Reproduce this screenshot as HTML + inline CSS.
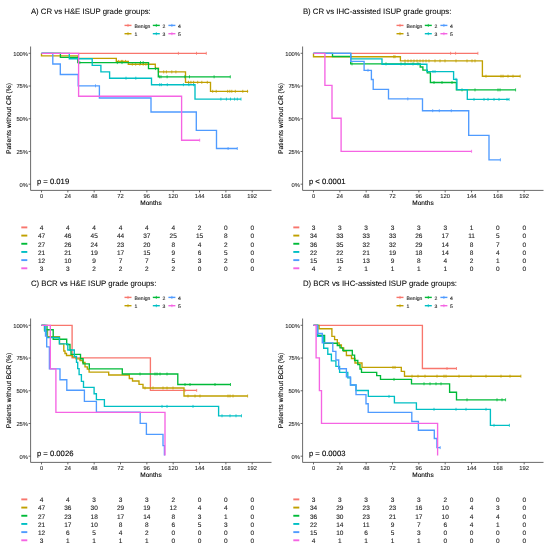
<!DOCTYPE html>
<html><head><meta charset="utf-8"><style>
html,body{margin:0;padding:0;background:#fff;}
svg{display:block;will-change:transform;}
text{font-family:"Liberation Sans",sans-serif;fill:#000;text-rendering:geometricPrecision;stroke:#000;stroke-width:0.12px;}
.title{font-size:7.8px;stroke-width:0.05px;}
.leg{font-size:5.1px;fill:#222;stroke:#222;stroke-width:0.1px;}
.tick{font-size:5.8px;fill:#222;stroke:#222;stroke-width:0.08px;}
.axt{font-size:6.5px;}
.axty{font-size:6.7px;}
.pv{font-size:7.7px;}
.rt{font-size:6.5px;fill:#1a1a1a;stroke:#1a1a1a;stroke-width:0.1px;}
.ax{stroke:#444;stroke-width:0.8;}
.km{stroke-width:1.35;}
.cen{stroke-width:0.8;}
</style></head><body>
<svg width="550" height="549" viewBox="0 0 550 549">
<rect width="550" height="549" fill="#fff"/>
<g transform="translate(0,0)">
<text x="30.9" y="14.2" class="title">A) CR vs H&amp;E ISUP grade groups:</text>
<line x1="124.5" y1="25.4" x2="131.5" y2="25.4" stroke="#F8766D" stroke-width="1.4"/>
<line x1="128" y1="23.9" x2="128" y2="26.9" stroke="#F8766D" stroke-width="0.8"/>
<text x="134.6" y="27.6" class="leg">Benign</text>
<line x1="124.5" y1="33.7" x2="131.5" y2="33.7" stroke="#C0A000" stroke-width="1.4"/>
<line x1="128" y1="32.2" x2="128" y2="35.2" stroke="#C0A000" stroke-width="0.8"/>
<text x="134.6" y="35.9" class="leg">1</text>
<line x1="152.8" y1="25.4" x2="159.8" y2="25.4" stroke="#00BA38" stroke-width="1.4"/>
<line x1="156.3" y1="23.9" x2="156.3" y2="26.9" stroke="#00BA38" stroke-width="0.8"/>
<text x="162.6" y="27.6" class="leg">2</text>
<line x1="152.8" y1="33.7" x2="159.8" y2="33.7" stroke="#00BFC4" stroke-width="1.4"/>
<line x1="156.3" y1="32.2" x2="156.3" y2="35.2" stroke="#00BFC4" stroke-width="0.8"/>
<text x="162.6" y="35.9" class="leg">3</text>
<line x1="168.4" y1="25.4" x2="175.4" y2="25.4" stroke="#4F9BFF" stroke-width="1.4"/>
<line x1="171.9" y1="23.9" x2="171.9" y2="26.9" stroke="#4F9BFF" stroke-width="0.8"/>
<text x="177.9" y="27.6" class="leg">4</text>
<line x1="168.4" y1="33.7" x2="175.4" y2="33.7" stroke="#F564E3" stroke-width="1.4"/>
<line x1="171.9" y1="32.2" x2="171.9" y2="35.2" stroke="#F564E3" stroke-width="0.8"/>
<text x="177.9" y="35.9" class="leg">5</text>
<line x1="30.6" y1="46.5" x2="30.6" y2="190.4" class="ax"/>
<line x1="30.6" y1="190.4" x2="271.5" y2="190.4" class="ax"/>
<line x1="28.6" y1="184.2" x2="30.6" y2="184.2" class="ax"/>
<text x="28" y="186.6" class="tick" text-anchor="end">0%</text>
<line x1="28.6" y1="151.47" x2="30.6" y2="151.47" class="ax"/>
<text x="28" y="153.88" class="tick" text-anchor="end">25%</text>
<line x1="28.6" y1="118.75" x2="30.6" y2="118.75" class="ax"/>
<text x="28" y="121.15" class="tick" text-anchor="end">50%</text>
<line x1="28.6" y1="86.03" x2="30.6" y2="86.03" class="ax"/>
<text x="28" y="88.43" class="tick" text-anchor="end">75%</text>
<line x1="28.6" y1="53.3" x2="30.6" y2="53.3" class="ax"/>
<text x="28" y="55.7" class="tick" text-anchor="end">100%</text>
<line x1="41.5" y1="190.4" x2="41.5" y2="192.4" class="ax"/>
<text x="41.5" y="197.6" class="tick" text-anchor="middle">0</text>
<line x1="67.84" y1="190.4" x2="67.84" y2="192.4" class="ax"/>
<text x="67.84" y="197.6" class="tick" text-anchor="middle">24</text>
<line x1="94.18" y1="190.4" x2="94.18" y2="192.4" class="ax"/>
<text x="94.18" y="197.6" class="tick" text-anchor="middle">48</text>
<line x1="120.51" y1="190.4" x2="120.51" y2="192.4" class="ax"/>
<text x="120.51" y="197.6" class="tick" text-anchor="middle">72</text>
<line x1="146.85" y1="190.4" x2="146.85" y2="192.4" class="ax"/>
<text x="146.85" y="197.6" class="tick" text-anchor="middle">96</text>
<line x1="173.19" y1="190.4" x2="173.19" y2="192.4" class="ax"/>
<text x="173.19" y="197.6" class="tick" text-anchor="middle">120</text>
<line x1="199.53" y1="190.4" x2="199.53" y2="192.4" class="ax"/>
<text x="199.53" y="197.6" class="tick" text-anchor="middle">144</text>
<line x1="225.86" y1="190.4" x2="225.86" y2="192.4" class="ax"/>
<text x="225.86" y="197.6" class="tick" text-anchor="middle">168</text>
<line x1="252.2" y1="190.4" x2="252.2" y2="192.4" class="ax"/>
<text x="252.2" y="197.6" class="tick" text-anchor="middle">192</text>
<text x="151" y="205.4" class="axt" text-anchor="middle">Months</text>
<text transform="translate(11.1,118.5) rotate(-90)" class="axty" text-anchor="middle">Patients without CR (%)</text>
<text x="36.9" y="184.2" class="pv">p = 0.019</text>
<line x1="21.3" y1="227.4" x2="27.3" y2="227.4" stroke="#F8766D" stroke-width="1.9"/>
<text x="41.5" y="230.15" class="rt" text-anchor="middle">4</text>
<text x="67.84" y="230.15" class="rt" text-anchor="middle">4</text>
<text x="94.18" y="230.15" class="rt" text-anchor="middle">4</text>
<text x="120.51" y="230.15" class="rt" text-anchor="middle">4</text>
<text x="146.85" y="230.15" class="rt" text-anchor="middle">4</text>
<text x="173.19" y="230.15" class="rt" text-anchor="middle">4</text>
<text x="199.53" y="230.15" class="rt" text-anchor="middle">2</text>
<text x="225.86" y="230.15" class="rt" text-anchor="middle">0</text>
<text x="252.2" y="230.15" class="rt" text-anchor="middle">0</text>
<line x1="21.3" y1="235.58" x2="27.3" y2="235.58" stroke="#C0A000" stroke-width="1.9"/>
<text x="41.5" y="238.33" class="rt" text-anchor="middle">47</text>
<text x="67.84" y="238.33" class="rt" text-anchor="middle">46</text>
<text x="94.18" y="238.33" class="rt" text-anchor="middle">45</text>
<text x="120.51" y="238.33" class="rt" text-anchor="middle">44</text>
<text x="146.85" y="238.33" class="rt" text-anchor="middle">37</text>
<text x="173.19" y="238.33" class="rt" text-anchor="middle">25</text>
<text x="199.53" y="238.33" class="rt" text-anchor="middle">15</text>
<text x="225.86" y="238.33" class="rt" text-anchor="middle">8</text>
<text x="252.2" y="238.33" class="rt" text-anchor="middle">0</text>
<line x1="21.3" y1="243.76" x2="27.3" y2="243.76" stroke="#00BA38" stroke-width="1.9"/>
<text x="41.5" y="246.51" class="rt" text-anchor="middle">27</text>
<text x="67.84" y="246.51" class="rt" text-anchor="middle">26</text>
<text x="94.18" y="246.51" class="rt" text-anchor="middle">24</text>
<text x="120.51" y="246.51" class="rt" text-anchor="middle">23</text>
<text x="146.85" y="246.51" class="rt" text-anchor="middle">20</text>
<text x="173.19" y="246.51" class="rt" text-anchor="middle">8</text>
<text x="199.53" y="246.51" class="rt" text-anchor="middle">4</text>
<text x="225.86" y="246.51" class="rt" text-anchor="middle">2</text>
<text x="252.2" y="246.51" class="rt" text-anchor="middle">0</text>
<line x1="21.3" y1="251.94" x2="27.3" y2="251.94" stroke="#00BFC4" stroke-width="1.9"/>
<text x="41.5" y="254.69" class="rt" text-anchor="middle">21</text>
<text x="67.84" y="254.69" class="rt" text-anchor="middle">21</text>
<text x="94.18" y="254.69" class="rt" text-anchor="middle">19</text>
<text x="120.51" y="254.69" class="rt" text-anchor="middle">17</text>
<text x="146.85" y="254.69" class="rt" text-anchor="middle">15</text>
<text x="173.19" y="254.69" class="rt" text-anchor="middle">9</text>
<text x="199.53" y="254.69" class="rt" text-anchor="middle">6</text>
<text x="225.86" y="254.69" class="rt" text-anchor="middle">5</text>
<text x="252.2" y="254.69" class="rt" text-anchor="middle">0</text>
<line x1="21.3" y1="260.12" x2="27.3" y2="260.12" stroke="#4F9BFF" stroke-width="1.9"/>
<text x="41.5" y="262.87" class="rt" text-anchor="middle">12</text>
<text x="67.84" y="262.87" class="rt" text-anchor="middle">10</text>
<text x="94.18" y="262.87" class="rt" text-anchor="middle">9</text>
<text x="120.51" y="262.87" class="rt" text-anchor="middle">7</text>
<text x="146.85" y="262.87" class="rt" text-anchor="middle">7</text>
<text x="173.19" y="262.87" class="rt" text-anchor="middle">5</text>
<text x="199.53" y="262.87" class="rt" text-anchor="middle">3</text>
<text x="225.86" y="262.87" class="rt" text-anchor="middle">2</text>
<text x="252.2" y="262.87" class="rt" text-anchor="middle">0</text>
<line x1="21.3" y1="268.3" x2="27.3" y2="268.3" stroke="#F564E3" stroke-width="1.9"/>
<text x="41.5" y="271.05" class="rt" text-anchor="middle">3</text>
<text x="67.84" y="271.05" class="rt" text-anchor="middle">3</text>
<text x="94.18" y="271.05" class="rt" text-anchor="middle">2</text>
<text x="120.51" y="271.05" class="rt" text-anchor="middle">2</text>
<text x="146.85" y="271.05" class="rt" text-anchor="middle">2</text>
<text x="173.19" y="271.05" class="rt" text-anchor="middle">2</text>
<text x="199.53" y="271.05" class="rt" text-anchor="middle">0</text>
<text x="225.86" y="271.05" class="rt" text-anchor="middle">0</text>
<text x="252.2" y="271.05" class="rt" text-anchor="middle">0</text>
</g>
<path d="M41.5,53.3H206.3" fill="none" stroke="#F8766D" class="km"/>
<line x1="178.4" y1="51.8" x2="178.4" y2="54.8" stroke="#F8766D" class="cen"/>
<line x1="196.5" y1="51.8" x2="196.5" y2="54.8" stroke="#F8766D" class="cen"/>
<line x1="206.3" y1="51.8" x2="206.3" y2="54.8" stroke="#F8766D" class="cen"/>
<path d="M41.5,53.3H41.5V55.9H78V58.4H116.3V61.4H128.3V64.2H155.3V68.1H158.5V71.9H185.5V82.3H210.5V91.3H248.2" fill="none" stroke="#C0A000" class="km"/>
<line x1="118.6" y1="59.9" x2="118.6" y2="62.9" stroke="#C0A000" class="cen"/>
<line x1="121.4" y1="59.9" x2="121.4" y2="62.9" stroke="#C0A000" class="cen"/>
<line x1="122.7" y1="59.9" x2="122.7" y2="62.9" stroke="#C0A000" class="cen"/>
<line x1="125.5" y1="59.9" x2="125.5" y2="62.9" stroke="#C0A000" class="cen"/>
<line x1="132.3" y1="62.7" x2="132.3" y2="65.7" stroke="#C0A000" class="cen"/>
<line x1="135.7" y1="62.7" x2="135.7" y2="65.7" stroke="#C0A000" class="cen"/>
<line x1="139.8" y1="62.7" x2="139.8" y2="65.7" stroke="#C0A000" class="cen"/>
<line x1="143.2" y1="62.7" x2="143.2" y2="65.7" stroke="#C0A000" class="cen"/>
<line x1="145.9" y1="62.7" x2="145.9" y2="65.7" stroke="#C0A000" class="cen"/>
<line x1="163.7" y1="70.4" x2="163.7" y2="73.4" stroke="#C0A000" class="cen"/>
<line x1="166.4" y1="70.4" x2="166.4" y2="73.4" stroke="#C0A000" class="cen"/>
<line x1="171.8" y1="70.4" x2="171.8" y2="73.4" stroke="#C0A000" class="cen"/>
<line x1="175.9" y1="70.4" x2="175.9" y2="73.4" stroke="#C0A000" class="cen"/>
<line x1="188.5" y1="80.8" x2="188.5" y2="83.8" stroke="#C0A000" class="cen"/>
<line x1="190.9" y1="80.8" x2="190.9" y2="83.8" stroke="#C0A000" class="cen"/>
<line x1="193.6" y1="80.8" x2="193.6" y2="83.8" stroke="#C0A000" class="cen"/>
<line x1="197.7" y1="80.8" x2="197.7" y2="83.8" stroke="#C0A000" class="cen"/>
<line x1="201.8" y1="80.8" x2="201.8" y2="83.8" stroke="#C0A000" class="cen"/>
<line x1="207.3" y1="80.8" x2="207.3" y2="83.8" stroke="#C0A000" class="cen"/>
<line x1="212.7" y1="89.8" x2="212.7" y2="92.8" stroke="#C0A000" class="cen"/>
<line x1="216.2" y1="89.8" x2="216.2" y2="92.8" stroke="#C0A000" class="cen"/>
<line x1="227.7" y1="89.8" x2="227.7" y2="92.8" stroke="#C0A000" class="cen"/>
<line x1="229.8" y1="89.8" x2="229.8" y2="92.8" stroke="#C0A000" class="cen"/>
<line x1="231.8" y1="89.8" x2="231.8" y2="92.8" stroke="#C0A000" class="cen"/>
<line x1="235.3" y1="89.8" x2="235.3" y2="92.8" stroke="#C0A000" class="cen"/>
<line x1="242.8" y1="89.8" x2="242.8" y2="92.8" stroke="#C0A000" class="cen"/>
<line x1="247.5" y1="89.8" x2="247.5" y2="92.8" stroke="#C0A000" class="cen"/>
<path d="M41.5,53.3H60.4V57.3H77.8V62.6H148.5V68.6H158.3V76.8H230.3" fill="none" stroke="#00BA38" class="km"/>
<line x1="79.8" y1="61.1" x2="79.8" y2="64.1" stroke="#00BA38" class="cen"/>
<line x1="117.3" y1="61.1" x2="117.3" y2="64.1" stroke="#00BA38" class="cen"/>
<line x1="122" y1="61.1" x2="122" y2="64.1" stroke="#00BA38" class="cen"/>
<line x1="140.5" y1="61.1" x2="140.5" y2="64.1" stroke="#00BA38" class="cen"/>
<line x1="143.2" y1="61.1" x2="143.2" y2="64.1" stroke="#00BA38" class="cen"/>
<line x1="155.5" y1="67.1" x2="155.5" y2="70.1" stroke="#00BA38" class="cen"/>
<line x1="159.6" y1="75.3" x2="159.6" y2="78.3" stroke="#00BA38" class="cen"/>
<line x1="161" y1="75.3" x2="161" y2="78.3" stroke="#00BA38" class="cen"/>
<line x1="167.1" y1="75.3" x2="167.1" y2="78.3" stroke="#00BA38" class="cen"/>
<line x1="184.8" y1="75.3" x2="184.8" y2="78.3" stroke="#00BA38" class="cen"/>
<line x1="189.5" y1="75.3" x2="189.5" y2="78.3" stroke="#00BA38" class="cen"/>
<line x1="214.1" y1="75.3" x2="214.1" y2="78.3" stroke="#00BA38" class="cen"/>
<line x1="230.3" y1="75.3" x2="230.3" y2="78.3" stroke="#00BA38" class="cen"/>
<path d="M41.5,53.3H69.3V58.7H92.2V65.3H100.9V71.8H109.6V78.2H151.5V84.7H195V99.1H241" fill="none" stroke="#00BFC4" class="km"/>
<line x1="126" y1="76.7" x2="126" y2="79.7" stroke="#00BFC4" class="cen"/>
<line x1="135.8" y1="76.7" x2="135.8" y2="79.7" stroke="#00BFC4" class="cen"/>
<line x1="159.7" y1="83.2" x2="159.7" y2="86.2" stroke="#00BFC4" class="cen"/>
<line x1="161.3" y1="83.2" x2="161.3" y2="86.2" stroke="#00BFC4" class="cen"/>
<line x1="167.3" y1="83.2" x2="167.3" y2="86.2" stroke="#00BFC4" class="cen"/>
<line x1="183.4" y1="83.2" x2="183.4" y2="86.2" stroke="#00BFC4" class="cen"/>
<line x1="188.9" y1="83.2" x2="188.9" y2="86.2" stroke="#00BFC4" class="cen"/>
<line x1="193.6" y1="83.2" x2="193.6" y2="86.2" stroke="#00BFC4" class="cen"/>
<line x1="220.9" y1="97.6" x2="220.9" y2="100.6" stroke="#00BFC4" class="cen"/>
<line x1="226.4" y1="97.6" x2="226.4" y2="100.6" stroke="#00BFC4" class="cen"/>
<line x1="230.5" y1="97.6" x2="230.5" y2="100.6" stroke="#00BFC4" class="cen"/>
<line x1="234.6" y1="97.6" x2="234.6" y2="100.6" stroke="#00BFC4" class="cen"/>
<line x1="237.3" y1="97.6" x2="237.3" y2="100.6" stroke="#00BFC4" class="cen"/>
<line x1="241" y1="97.6" x2="241" y2="100.6" stroke="#00BFC4" class="cen"/>
<path d="M41.5,53.3H52.8V64H60.3V74.5H78.2V85.8H99.4V98H151V112H196.3V130.4H216.5V148.5H237.3" fill="none" stroke="#4F9BFF" class="km"/>
<line x1="95.5" y1="84.3" x2="95.5" y2="87.3" stroke="#4F9BFF" class="cen"/>
<line x1="228.1" y1="147" x2="228.1" y2="150" stroke="#4F9BFF" class="cen"/>
<line x1="237.3" y1="147" x2="237.3" y2="150" stroke="#4F9BFF" class="cen"/>
<path d="M41.5,53.3H78.6V96.2H181.6V140.2H199.7" fill="none" stroke="#F564E3" class="km"/>
<line x1="199.7" y1="138.7" x2="199.7" y2="141.7" stroke="#F564E3" class="cen"/>
<g transform="translate(272,0)">
<text x="30.9" y="14.2" class="title">B) CR vs IHC-assisted ISUP grade groups:</text>
<line x1="124.5" y1="25.4" x2="131.5" y2="25.4" stroke="#F8766D" stroke-width="1.4"/>
<line x1="128" y1="23.9" x2="128" y2="26.9" stroke="#F8766D" stroke-width="0.8"/>
<text x="134.6" y="27.6" class="leg">Benign</text>
<line x1="124.5" y1="33.7" x2="131.5" y2="33.7" stroke="#C0A000" stroke-width="1.4"/>
<line x1="128" y1="32.2" x2="128" y2="35.2" stroke="#C0A000" stroke-width="0.8"/>
<text x="134.6" y="35.9" class="leg">1</text>
<line x1="152.8" y1="25.4" x2="159.8" y2="25.4" stroke="#00BA38" stroke-width="1.4"/>
<line x1="156.3" y1="23.9" x2="156.3" y2="26.9" stroke="#00BA38" stroke-width="0.8"/>
<text x="162.6" y="27.6" class="leg">2</text>
<line x1="152.8" y1="33.7" x2="159.8" y2="33.7" stroke="#00BFC4" stroke-width="1.4"/>
<line x1="156.3" y1="32.2" x2="156.3" y2="35.2" stroke="#00BFC4" stroke-width="0.8"/>
<text x="162.6" y="35.9" class="leg">3</text>
<line x1="168.4" y1="25.4" x2="175.4" y2="25.4" stroke="#4F9BFF" stroke-width="1.4"/>
<line x1="171.9" y1="23.9" x2="171.9" y2="26.9" stroke="#4F9BFF" stroke-width="0.8"/>
<text x="177.9" y="27.6" class="leg">4</text>
<line x1="168.4" y1="33.7" x2="175.4" y2="33.7" stroke="#F564E3" stroke-width="1.4"/>
<line x1="171.9" y1="32.2" x2="171.9" y2="35.2" stroke="#F564E3" stroke-width="0.8"/>
<text x="177.9" y="35.9" class="leg">5</text>
<line x1="30.6" y1="46.5" x2="30.6" y2="190.4" class="ax"/>
<line x1="30.6" y1="190.4" x2="271.5" y2="190.4" class="ax"/>
<line x1="28.6" y1="184.2" x2="30.6" y2="184.2" class="ax"/>
<text x="28" y="186.6" class="tick" text-anchor="end">0%</text>
<line x1="28.6" y1="151.47" x2="30.6" y2="151.47" class="ax"/>
<text x="28" y="153.88" class="tick" text-anchor="end">25%</text>
<line x1="28.6" y1="118.75" x2="30.6" y2="118.75" class="ax"/>
<text x="28" y="121.15" class="tick" text-anchor="end">50%</text>
<line x1="28.6" y1="86.03" x2="30.6" y2="86.03" class="ax"/>
<text x="28" y="88.43" class="tick" text-anchor="end">75%</text>
<line x1="28.6" y1="53.3" x2="30.6" y2="53.3" class="ax"/>
<text x="28" y="55.7" class="tick" text-anchor="end">100%</text>
<line x1="41.5" y1="190.4" x2="41.5" y2="192.4" class="ax"/>
<text x="41.5" y="197.6" class="tick" text-anchor="middle">0</text>
<line x1="67.84" y1="190.4" x2="67.84" y2="192.4" class="ax"/>
<text x="67.84" y="197.6" class="tick" text-anchor="middle">24</text>
<line x1="94.18" y1="190.4" x2="94.18" y2="192.4" class="ax"/>
<text x="94.18" y="197.6" class="tick" text-anchor="middle">48</text>
<line x1="120.51" y1="190.4" x2="120.51" y2="192.4" class="ax"/>
<text x="120.51" y="197.6" class="tick" text-anchor="middle">72</text>
<line x1="146.85" y1="190.4" x2="146.85" y2="192.4" class="ax"/>
<text x="146.85" y="197.6" class="tick" text-anchor="middle">96</text>
<line x1="173.19" y1="190.4" x2="173.19" y2="192.4" class="ax"/>
<text x="173.19" y="197.6" class="tick" text-anchor="middle">120</text>
<line x1="199.53" y1="190.4" x2="199.53" y2="192.4" class="ax"/>
<text x="199.53" y="197.6" class="tick" text-anchor="middle">144</text>
<line x1="225.86" y1="190.4" x2="225.86" y2="192.4" class="ax"/>
<text x="225.86" y="197.6" class="tick" text-anchor="middle">168</text>
<line x1="252.2" y1="190.4" x2="252.2" y2="192.4" class="ax"/>
<text x="252.2" y="197.6" class="tick" text-anchor="middle">192</text>
<text x="151" y="205.4" class="axt" text-anchor="middle">Months</text>
<text transform="translate(11.1,118.5) rotate(-90)" class="axty" text-anchor="middle">Patients without CR (%)</text>
<text x="36.9" y="184.2" class="pv">p &lt; 0.0001</text>
<line x1="21.3" y1="227.4" x2="27.3" y2="227.4" stroke="#F8766D" stroke-width="1.9"/>
<text x="41.5" y="230.15" class="rt" text-anchor="middle">3</text>
<text x="67.84" y="230.15" class="rt" text-anchor="middle">3</text>
<text x="94.18" y="230.15" class="rt" text-anchor="middle">3</text>
<text x="120.51" y="230.15" class="rt" text-anchor="middle">3</text>
<text x="146.85" y="230.15" class="rt" text-anchor="middle">3</text>
<text x="173.19" y="230.15" class="rt" text-anchor="middle">3</text>
<text x="199.53" y="230.15" class="rt" text-anchor="middle">1</text>
<text x="225.86" y="230.15" class="rt" text-anchor="middle">0</text>
<text x="252.2" y="230.15" class="rt" text-anchor="middle">0</text>
<line x1="21.3" y1="235.58" x2="27.3" y2="235.58" stroke="#C0A000" stroke-width="1.9"/>
<text x="41.5" y="238.33" class="rt" text-anchor="middle">34</text>
<text x="67.84" y="238.33" class="rt" text-anchor="middle">33</text>
<text x="94.18" y="238.33" class="rt" text-anchor="middle">33</text>
<text x="120.51" y="238.33" class="rt" text-anchor="middle">33</text>
<text x="146.85" y="238.33" class="rt" text-anchor="middle">26</text>
<text x="173.19" y="238.33" class="rt" text-anchor="middle">17</text>
<text x="199.53" y="238.33" class="rt" text-anchor="middle">11</text>
<text x="225.86" y="238.33" class="rt" text-anchor="middle">5</text>
<text x="252.2" y="238.33" class="rt" text-anchor="middle">0</text>
<line x1="21.3" y1="243.76" x2="27.3" y2="243.76" stroke="#00BA38" stroke-width="1.9"/>
<text x="41.5" y="246.51" class="rt" text-anchor="middle">36</text>
<text x="67.84" y="246.51" class="rt" text-anchor="middle">35</text>
<text x="94.18" y="246.51" class="rt" text-anchor="middle">32</text>
<text x="120.51" y="246.51" class="rt" text-anchor="middle">32</text>
<text x="146.85" y="246.51" class="rt" text-anchor="middle">29</text>
<text x="173.19" y="246.51" class="rt" text-anchor="middle">14</text>
<text x="199.53" y="246.51" class="rt" text-anchor="middle">8</text>
<text x="225.86" y="246.51" class="rt" text-anchor="middle">7</text>
<text x="252.2" y="246.51" class="rt" text-anchor="middle">0</text>
<line x1="21.3" y1="251.94" x2="27.3" y2="251.94" stroke="#00BFC4" stroke-width="1.9"/>
<text x="41.5" y="254.69" class="rt" text-anchor="middle">22</text>
<text x="67.84" y="254.69" class="rt" text-anchor="middle">22</text>
<text x="94.18" y="254.69" class="rt" text-anchor="middle">21</text>
<text x="120.51" y="254.69" class="rt" text-anchor="middle">19</text>
<text x="146.85" y="254.69" class="rt" text-anchor="middle">18</text>
<text x="173.19" y="254.69" class="rt" text-anchor="middle">14</text>
<text x="199.53" y="254.69" class="rt" text-anchor="middle">8</text>
<text x="225.86" y="254.69" class="rt" text-anchor="middle">4</text>
<text x="252.2" y="254.69" class="rt" text-anchor="middle">0</text>
<line x1="21.3" y1="260.12" x2="27.3" y2="260.12" stroke="#4F9BFF" stroke-width="1.9"/>
<text x="41.5" y="262.87" class="rt" text-anchor="middle">15</text>
<text x="67.84" y="262.87" class="rt" text-anchor="middle">15</text>
<text x="94.18" y="262.87" class="rt" text-anchor="middle">13</text>
<text x="120.51" y="262.87" class="rt" text-anchor="middle">9</text>
<text x="146.85" y="262.87" class="rt" text-anchor="middle">8</text>
<text x="173.19" y="262.87" class="rt" text-anchor="middle">4</text>
<text x="199.53" y="262.87" class="rt" text-anchor="middle">2</text>
<text x="225.86" y="262.87" class="rt" text-anchor="middle">1</text>
<text x="252.2" y="262.87" class="rt" text-anchor="middle">0</text>
<line x1="21.3" y1="268.3" x2="27.3" y2="268.3" stroke="#F564E3" stroke-width="1.9"/>
<text x="41.5" y="271.05" class="rt" text-anchor="middle">4</text>
<text x="67.84" y="271.05" class="rt" text-anchor="middle">2</text>
<text x="94.18" y="271.05" class="rt" text-anchor="middle">1</text>
<text x="120.51" y="271.05" class="rt" text-anchor="middle">1</text>
<text x="146.85" y="271.05" class="rt" text-anchor="middle">1</text>
<text x="173.19" y="271.05" class="rt" text-anchor="middle">1</text>
<text x="199.53" y="271.05" class="rt" text-anchor="middle">0</text>
<text x="225.86" y="271.05" class="rt" text-anchor="middle">0</text>
<text x="252.2" y="271.05" class="rt" text-anchor="middle">0</text>
</g>
<path d="M313.5,53.3H477.9" fill="none" stroke="#F8766D" class="km"/>
<line x1="450.6" y1="51.8" x2="450.6" y2="54.8" stroke="#F8766D" class="cen"/>
<line x1="455.6" y1="51.8" x2="455.6" y2="54.8" stroke="#F8766D" class="cen"/>
<line x1="477.9" y1="51.8" x2="477.9" y2="54.8" stroke="#F8766D" class="cen"/>
<path d="M313.5,53.3H313.5V56.7H400.4V60.9H482.4V76.2H520.2" fill="none" stroke="#C0A000" class="km"/>
<line x1="393.8" y1="55.2" x2="393.8" y2="58.2" stroke="#C0A000" class="cen"/>
<line x1="395" y1="55.2" x2="395" y2="58.2" stroke="#C0A000" class="cen"/>
<line x1="405" y1="59.4" x2="405" y2="62.4" stroke="#C0A000" class="cen"/>
<line x1="408" y1="59.4" x2="408" y2="62.4" stroke="#C0A000" class="cen"/>
<line x1="411" y1="59.4" x2="411" y2="62.4" stroke="#C0A000" class="cen"/>
<line x1="414" y1="59.4" x2="414" y2="62.4" stroke="#C0A000" class="cen"/>
<line x1="417" y1="59.4" x2="417" y2="62.4" stroke="#C0A000" class="cen"/>
<line x1="420" y1="59.4" x2="420" y2="62.4" stroke="#C0A000" class="cen"/>
<line x1="423" y1="59.4" x2="423" y2="62.4" stroke="#C0A000" class="cen"/>
<line x1="426" y1="59.4" x2="426" y2="62.4" stroke="#C0A000" class="cen"/>
<line x1="429" y1="59.4" x2="429" y2="62.4" stroke="#C0A000" class="cen"/>
<line x1="435" y1="59.4" x2="435" y2="62.4" stroke="#C0A000" class="cen"/>
<line x1="440" y1="59.4" x2="440" y2="62.4" stroke="#C0A000" class="cen"/>
<line x1="445" y1="59.4" x2="445" y2="62.4" stroke="#C0A000" class="cen"/>
<line x1="456" y1="59.4" x2="456" y2="62.4" stroke="#C0A000" class="cen"/>
<line x1="467" y1="59.4" x2="467" y2="62.4" stroke="#C0A000" class="cen"/>
<line x1="472" y1="59.4" x2="472" y2="62.4" stroke="#C0A000" class="cen"/>
<line x1="475" y1="59.4" x2="475" y2="62.4" stroke="#C0A000" class="cen"/>
<line x1="486" y1="74.7" x2="486" y2="77.7" stroke="#C0A000" class="cen"/>
<line x1="501" y1="74.7" x2="501" y2="77.7" stroke="#C0A000" class="cen"/>
<line x1="503" y1="74.7" x2="503" y2="77.7" stroke="#C0A000" class="cen"/>
<line x1="508" y1="74.7" x2="508" y2="77.7" stroke="#C0A000" class="cen"/>
<line x1="513" y1="74.7" x2="513" y2="77.7" stroke="#C0A000" class="cen"/>
<line x1="520.2" y1="74.7" x2="520.2" y2="77.7" stroke="#C0A000" class="cen"/>
<path d="M313.5,53.3H332.5V56.5H350.7V63.9H420.2V67H422.9V70.1H427.3V72.9H430.4V82.5H456.4V89.9H515.6" fill="none" stroke="#00BA38" class="km"/>
<line x1="352" y1="62.4" x2="352" y2="65.4" stroke="#00BA38" class="cen"/>
<line x1="386" y1="62.4" x2="386" y2="65.4" stroke="#00BA38" class="cen"/>
<line x1="401" y1="62.4" x2="401" y2="65.4" stroke="#00BA38" class="cen"/>
<line x1="405" y1="62.4" x2="405" y2="65.4" stroke="#00BA38" class="cen"/>
<line x1="413" y1="62.4" x2="413" y2="65.4" stroke="#00BA38" class="cen"/>
<line x1="418" y1="62.4" x2="418" y2="65.4" stroke="#00BA38" class="cen"/>
<line x1="434" y1="81" x2="434" y2="84" stroke="#00BA38" class="cen"/>
<line x1="442" y1="81" x2="442" y2="84" stroke="#00BA38" class="cen"/>
<line x1="452" y1="81" x2="452" y2="84" stroke="#00BA38" class="cen"/>
<line x1="462" y1="88.4" x2="462" y2="91.4" stroke="#00BA38" class="cen"/>
<line x1="475" y1="88.4" x2="475" y2="91.4" stroke="#00BA38" class="cen"/>
<line x1="498" y1="88.4" x2="498" y2="91.4" stroke="#00BA38" class="cen"/>
<line x1="500" y1="88.4" x2="500" y2="91.4" stroke="#00BA38" class="cen"/>
<line x1="515.6" y1="88.4" x2="515.6" y2="91.4" stroke="#00BA38" class="cen"/>
<path d="M313.5,53.3H350.7V58.9H382V64.2H426.9V71.6H453.6V79.3H456.9V89.6H467.3V99.4H509.1" fill="none" stroke="#00BFC4" class="km"/>
<line x1="433" y1="70.1" x2="433" y2="73.1" stroke="#00BFC4" class="cen"/>
<line x1="435" y1="70.1" x2="435" y2="73.1" stroke="#00BFC4" class="cen"/>
<line x1="456" y1="77.8" x2="456" y2="80.8" stroke="#00BFC4" class="cen"/>
<line x1="474" y1="97.9" x2="474" y2="100.9" stroke="#00BFC4" class="cen"/>
<line x1="484" y1="97.9" x2="484" y2="100.9" stroke="#00BFC4" class="cen"/>
<line x1="488" y1="97.9" x2="488" y2="100.9" stroke="#00BFC4" class="cen"/>
<line x1="494" y1="97.9" x2="494" y2="100.9" stroke="#00BFC4" class="cen"/>
<line x1="499" y1="97.9" x2="499" y2="100.9" stroke="#00BFC4" class="cen"/>
<line x1="507" y1="97.9" x2="507" y2="100.9" stroke="#00BFC4" class="cen"/>
<line x1="509.1" y1="97.9" x2="509.1" y2="100.9" stroke="#00BFC4" class="cen"/>
<path d="M313.5,53.3H350.7V61.4H364.1V70.3H371.4V79.5H373.2V89.3H388.5V98.9H422.5V110.7H468.7V135.4H489V159.8H500.4" fill="none" stroke="#4F9BFF" class="km"/>
<line x1="368" y1="68.8" x2="368" y2="71.8" stroke="#4F9BFF" class="cen"/>
<line x1="407.8" y1="97.4" x2="407.8" y2="100.4" stroke="#4F9BFF" class="cen"/>
<line x1="432.7" y1="109.2" x2="432.7" y2="112.2" stroke="#4F9BFF" class="cen"/>
<line x1="439.3" y1="109.2" x2="439.3" y2="112.2" stroke="#4F9BFF" class="cen"/>
<line x1="451.3" y1="109.2" x2="451.3" y2="112.2" stroke="#4F9BFF" class="cen"/>
<line x1="500.4" y1="158.3" x2="500.4" y2="161.3" stroke="#4F9BFF" class="cen"/>
<path d="M313.5,53.3H324.9V85.4H332V118.2H341.1V151.3H471.6" fill="none" stroke="#F564E3" class="km"/>
<line x1="471.6" y1="149.8" x2="471.6" y2="152.8" stroke="#F564E3" class="cen"/>
<g transform="translate(0,272)">
<text x="30.9" y="14.2" class="title">C) BCR vs H&amp;E ISUP grade groups:</text>
<line x1="124.5" y1="25.4" x2="131.5" y2="25.4" stroke="#F8766D" stroke-width="1.4"/>
<line x1="128" y1="23.9" x2="128" y2="26.9" stroke="#F8766D" stroke-width="0.8"/>
<text x="134.6" y="27.6" class="leg">Benign</text>
<line x1="124.5" y1="33.7" x2="131.5" y2="33.7" stroke="#C0A000" stroke-width="1.4"/>
<line x1="128" y1="32.2" x2="128" y2="35.2" stroke="#C0A000" stroke-width="0.8"/>
<text x="134.6" y="35.9" class="leg">1</text>
<line x1="152.8" y1="25.4" x2="159.8" y2="25.4" stroke="#00BA38" stroke-width="1.4"/>
<line x1="156.3" y1="23.9" x2="156.3" y2="26.9" stroke="#00BA38" stroke-width="0.8"/>
<text x="162.6" y="27.6" class="leg">2</text>
<line x1="152.8" y1="33.7" x2="159.8" y2="33.7" stroke="#00BFC4" stroke-width="1.4"/>
<line x1="156.3" y1="32.2" x2="156.3" y2="35.2" stroke="#00BFC4" stroke-width="0.8"/>
<text x="162.6" y="35.9" class="leg">3</text>
<line x1="168.4" y1="25.4" x2="175.4" y2="25.4" stroke="#4F9BFF" stroke-width="1.4"/>
<line x1="171.9" y1="23.9" x2="171.9" y2="26.9" stroke="#4F9BFF" stroke-width="0.8"/>
<text x="177.9" y="27.6" class="leg">4</text>
<line x1="168.4" y1="33.7" x2="175.4" y2="33.7" stroke="#F564E3" stroke-width="1.4"/>
<line x1="171.9" y1="32.2" x2="171.9" y2="35.2" stroke="#F564E3" stroke-width="0.8"/>
<text x="177.9" y="35.9" class="leg">5</text>
<line x1="30.6" y1="46.5" x2="30.6" y2="190.4" class="ax"/>
<line x1="30.6" y1="190.4" x2="271.5" y2="190.4" class="ax"/>
<line x1="28.6" y1="184.2" x2="30.6" y2="184.2" class="ax"/>
<text x="28" y="186.6" class="tick" text-anchor="end">0%</text>
<line x1="28.6" y1="151.47" x2="30.6" y2="151.47" class="ax"/>
<text x="28" y="153.88" class="tick" text-anchor="end">25%</text>
<line x1="28.6" y1="118.75" x2="30.6" y2="118.75" class="ax"/>
<text x="28" y="121.15" class="tick" text-anchor="end">50%</text>
<line x1="28.6" y1="86.03" x2="30.6" y2="86.03" class="ax"/>
<text x="28" y="88.43" class="tick" text-anchor="end">75%</text>
<line x1="28.6" y1="53.3" x2="30.6" y2="53.3" class="ax"/>
<text x="28" y="55.7" class="tick" text-anchor="end">100%</text>
<line x1="41.5" y1="190.4" x2="41.5" y2="192.4" class="ax"/>
<text x="41.5" y="197.6" class="tick" text-anchor="middle">0</text>
<line x1="67.84" y1="190.4" x2="67.84" y2="192.4" class="ax"/>
<text x="67.84" y="197.6" class="tick" text-anchor="middle">24</text>
<line x1="94.18" y1="190.4" x2="94.18" y2="192.4" class="ax"/>
<text x="94.18" y="197.6" class="tick" text-anchor="middle">48</text>
<line x1="120.51" y1="190.4" x2="120.51" y2="192.4" class="ax"/>
<text x="120.51" y="197.6" class="tick" text-anchor="middle">72</text>
<line x1="146.85" y1="190.4" x2="146.85" y2="192.4" class="ax"/>
<text x="146.85" y="197.6" class="tick" text-anchor="middle">96</text>
<line x1="173.19" y1="190.4" x2="173.19" y2="192.4" class="ax"/>
<text x="173.19" y="197.6" class="tick" text-anchor="middle">120</text>
<line x1="199.53" y1="190.4" x2="199.53" y2="192.4" class="ax"/>
<text x="199.53" y="197.6" class="tick" text-anchor="middle">144</text>
<line x1="225.86" y1="190.4" x2="225.86" y2="192.4" class="ax"/>
<text x="225.86" y="197.6" class="tick" text-anchor="middle">168</text>
<line x1="252.2" y1="190.4" x2="252.2" y2="192.4" class="ax"/>
<text x="252.2" y="197.6" class="tick" text-anchor="middle">192</text>
<text x="151" y="205.4" class="axt" text-anchor="middle">Months</text>
<text transform="translate(11.1,118.5) rotate(-90)" class="axty" text-anchor="middle">Patients without BCR (%)</text>
<text x="36.9" y="184.2" class="pv">p = 0.0026</text>
<line x1="21.3" y1="227.4" x2="27.3" y2="227.4" stroke="#F8766D" stroke-width="1.9"/>
<text x="41.5" y="230.15" class="rt" text-anchor="middle">4</text>
<text x="67.84" y="230.15" class="rt" text-anchor="middle">4</text>
<text x="94.18" y="230.15" class="rt" text-anchor="middle">3</text>
<text x="120.51" y="230.15" class="rt" text-anchor="middle">3</text>
<text x="146.85" y="230.15" class="rt" text-anchor="middle">3</text>
<text x="173.19" y="230.15" class="rt" text-anchor="middle">2</text>
<text x="199.53" y="230.15" class="rt" text-anchor="middle">0</text>
<text x="225.86" y="230.15" class="rt" text-anchor="middle">0</text>
<text x="252.2" y="230.15" class="rt" text-anchor="middle">0</text>
<line x1="21.3" y1="235.58" x2="27.3" y2="235.58" stroke="#C0A000" stroke-width="1.9"/>
<text x="41.5" y="238.33" class="rt" text-anchor="middle">47</text>
<text x="67.84" y="238.33" class="rt" text-anchor="middle">36</text>
<text x="94.18" y="238.33" class="rt" text-anchor="middle">30</text>
<text x="120.51" y="238.33" class="rt" text-anchor="middle">29</text>
<text x="146.85" y="238.33" class="rt" text-anchor="middle">19</text>
<text x="173.19" y="238.33" class="rt" text-anchor="middle">12</text>
<text x="199.53" y="238.33" class="rt" text-anchor="middle">4</text>
<text x="225.86" y="238.33" class="rt" text-anchor="middle">4</text>
<text x="252.2" y="238.33" class="rt" text-anchor="middle">0</text>
<line x1="21.3" y1="243.76" x2="27.3" y2="243.76" stroke="#00BA38" stroke-width="1.9"/>
<text x="41.5" y="246.51" class="rt" text-anchor="middle">27</text>
<text x="67.84" y="246.51" class="rt" text-anchor="middle">23</text>
<text x="94.18" y="246.51" class="rt" text-anchor="middle">18</text>
<text x="120.51" y="246.51" class="rt" text-anchor="middle">17</text>
<text x="146.85" y="246.51" class="rt" text-anchor="middle">14</text>
<text x="173.19" y="246.51" class="rt" text-anchor="middle">8</text>
<text x="199.53" y="246.51" class="rt" text-anchor="middle">3</text>
<text x="225.86" y="246.51" class="rt" text-anchor="middle">1</text>
<text x="252.2" y="246.51" class="rt" text-anchor="middle">0</text>
<line x1="21.3" y1="251.94" x2="27.3" y2="251.94" stroke="#00BFC4" stroke-width="1.9"/>
<text x="41.5" y="254.69" class="rt" text-anchor="middle">21</text>
<text x="67.84" y="254.69" class="rt" text-anchor="middle">17</text>
<text x="94.18" y="254.69" class="rt" text-anchor="middle">10</text>
<text x="120.51" y="254.69" class="rt" text-anchor="middle">8</text>
<text x="146.85" y="254.69" class="rt" text-anchor="middle">8</text>
<text x="173.19" y="254.69" class="rt" text-anchor="middle">6</text>
<text x="199.53" y="254.69" class="rt" text-anchor="middle">5</text>
<text x="225.86" y="254.69" class="rt" text-anchor="middle">3</text>
<text x="252.2" y="254.69" class="rt" text-anchor="middle">0</text>
<line x1="21.3" y1="260.12" x2="27.3" y2="260.12" stroke="#4F9BFF" stroke-width="1.9"/>
<text x="41.5" y="262.87" class="rt" text-anchor="middle">12</text>
<text x="67.84" y="262.87" class="rt" text-anchor="middle">6</text>
<text x="94.18" y="262.87" class="rt" text-anchor="middle">5</text>
<text x="120.51" y="262.87" class="rt" text-anchor="middle">4</text>
<text x="146.85" y="262.87" class="rt" text-anchor="middle">2</text>
<text x="173.19" y="262.87" class="rt" text-anchor="middle">0</text>
<text x="199.53" y="262.87" class="rt" text-anchor="middle">0</text>
<text x="225.86" y="262.87" class="rt" text-anchor="middle">0</text>
<text x="252.2" y="262.87" class="rt" text-anchor="middle">0</text>
<line x1="21.3" y1="268.3" x2="27.3" y2="268.3" stroke="#F564E3" stroke-width="1.9"/>
<text x="41.5" y="271.05" class="rt" text-anchor="middle">3</text>
<text x="67.84" y="271.05" class="rt" text-anchor="middle">1</text>
<text x="94.18" y="271.05" class="rt" text-anchor="middle">1</text>
<text x="120.51" y="271.05" class="rt" text-anchor="middle">1</text>
<text x="146.85" y="271.05" class="rt" text-anchor="middle">1</text>
<text x="173.19" y="271.05" class="rt" text-anchor="middle">0</text>
<text x="199.53" y="271.05" class="rt" text-anchor="middle">0</text>
<text x="225.86" y="271.05" class="rt" text-anchor="middle">0</text>
<text x="252.2" y="271.05" class="rt" text-anchor="middle">0</text>
</g>
<path d="M41.5,325.3H72.1V357.8H150.4V390.4H196.7" fill="none" stroke="#F8766D" class="km"/>
<line x1="185" y1="388.9" x2="185" y2="391.9" stroke="#F8766D" class="cen"/>
<line x1="196.7" y1="388.9" x2="196.7" y2="391.9" stroke="#F8766D" class="cen"/>
<path d="M41.5,325.3H44.5V330H47.5V336.6H59.5V343.8H63.8V351H65V353.5H66.5V355.5H72.5V357H76V358.8H80V360.5H82.7V362.5H85V366.8H87.3V369.1H89.1V372.1H108.7V375H129.3V378.5H132.5V381H139V384.4H143V388H184V396H247.6" fill="none" stroke="#C0A000" class="km"/>
<line x1="145" y1="386.5" x2="145" y2="389.5" stroke="#C0A000" class="cen"/>
<line x1="153" y1="386.5" x2="153" y2="389.5" stroke="#C0A000" class="cen"/>
<line x1="163" y1="386.5" x2="163" y2="389.5" stroke="#C0A000" class="cen"/>
<line x1="167" y1="386.5" x2="167" y2="389.5" stroke="#C0A000" class="cen"/>
<line x1="173" y1="386.5" x2="173" y2="389.5" stroke="#C0A000" class="cen"/>
<line x1="188" y1="394.5" x2="188" y2="397.5" stroke="#C0A000" class="cen"/>
<line x1="195" y1="394.5" x2="195" y2="397.5" stroke="#C0A000" class="cen"/>
<line x1="200" y1="394.5" x2="200" y2="397.5" stroke="#C0A000" class="cen"/>
<line x1="228" y1="394.5" x2="228" y2="397.5" stroke="#C0A000" class="cen"/>
<line x1="230" y1="394.5" x2="230" y2="397.5" stroke="#C0A000" class="cen"/>
<line x1="233" y1="394.5" x2="233" y2="397.5" stroke="#C0A000" class="cen"/>
<line x1="247.6" y1="394.5" x2="247.6" y2="397.5" stroke="#C0A000" class="cen"/>
<path d="M41.5,325.3H47V329.7H53.2V339.2H66.7V344.5H70V350H71V354.3H80.5V358.7H83.1V363.8H89.3V368.9H122.3V374H177.8V384.5H230.5" fill="none" stroke="#00BA38" class="km"/>
<line x1="140" y1="372.5" x2="140" y2="375.5" stroke="#00BA38" class="cen"/>
<line x1="155" y1="372.5" x2="155" y2="375.5" stroke="#00BA38" class="cen"/>
<line x1="157" y1="372.5" x2="157" y2="375.5" stroke="#00BA38" class="cen"/>
<line x1="160" y1="372.5" x2="160" y2="375.5" stroke="#00BA38" class="cen"/>
<line x1="167" y1="372.5" x2="167" y2="375.5" stroke="#00BA38" class="cen"/>
<line x1="185" y1="383" x2="185" y2="386" stroke="#00BA38" class="cen"/>
<line x1="190" y1="383" x2="190" y2="386" stroke="#00BA38" class="cen"/>
<line x1="215" y1="383" x2="215" y2="386" stroke="#00BA38" class="cen"/>
<line x1="230.5" y1="383" x2="230.5" y2="386" stroke="#00BA38" class="cen"/>
<path d="M41.5,325.3H44.6V331H46.8V337.5H59.4V343.8H67.8V350H74.3V356.5H76.5V362.4H77.7V368.6H79.1V374.6H81.4V381.4H83.5V387.3H94.1V393.7H96.4V399.6H104.4V406.4H218.6V415.8H241.5" fill="none" stroke="#00BFC4" class="km"/>
<line x1="162" y1="404.9" x2="162" y2="407.9" stroke="#00BFC4" class="cen"/>
<line x1="167" y1="404.9" x2="167" y2="407.9" stroke="#00BFC4" class="cen"/>
<line x1="193" y1="404.9" x2="193" y2="407.9" stroke="#00BFC4" class="cen"/>
<line x1="222" y1="414.3" x2="222" y2="417.3" stroke="#00BFC4" class="cen"/>
<line x1="230" y1="414.3" x2="230" y2="417.3" stroke="#00BFC4" class="cen"/>
<line x1="236" y1="414.3" x2="236" y2="417.3" stroke="#00BFC4" class="cen"/>
<line x1="241.5" y1="414.3" x2="241.5" y2="417.3" stroke="#00BFC4" class="cen"/>
<path d="M41.5,325.3H45.5V336H46.7V346.9H49.4V368.9H60V379.7H66.8V390.2H84.4V401.4H96.4V412.2H140.2V423.3H146.4V434.4H163V445.6H164.4V455.5" fill="none" stroke="#4F9BFF" class="km"/>
<path d="M41.5,325.3H50.3V368.9H55.9V412.4H165V455.6" fill="none" stroke="#F564E3" class="km"/>
<g transform="translate(272,272)">
<text x="30.9" y="14.2" class="title">D) BCR vs IHC-assisted ISUP grade groups:</text>
<line x1="124.5" y1="25.4" x2="131.5" y2="25.4" stroke="#F8766D" stroke-width="1.4"/>
<line x1="128" y1="23.9" x2="128" y2="26.9" stroke="#F8766D" stroke-width="0.8"/>
<text x="134.6" y="27.6" class="leg">Benign</text>
<line x1="124.5" y1="33.7" x2="131.5" y2="33.7" stroke="#C0A000" stroke-width="1.4"/>
<line x1="128" y1="32.2" x2="128" y2="35.2" stroke="#C0A000" stroke-width="0.8"/>
<text x="134.6" y="35.9" class="leg">1</text>
<line x1="152.8" y1="25.4" x2="159.8" y2="25.4" stroke="#00BA38" stroke-width="1.4"/>
<line x1="156.3" y1="23.9" x2="156.3" y2="26.9" stroke="#00BA38" stroke-width="0.8"/>
<text x="162.6" y="27.6" class="leg">2</text>
<line x1="152.8" y1="33.7" x2="159.8" y2="33.7" stroke="#00BFC4" stroke-width="1.4"/>
<line x1="156.3" y1="32.2" x2="156.3" y2="35.2" stroke="#00BFC4" stroke-width="0.8"/>
<text x="162.6" y="35.9" class="leg">3</text>
<line x1="168.4" y1="25.4" x2="175.4" y2="25.4" stroke="#4F9BFF" stroke-width="1.4"/>
<line x1="171.9" y1="23.9" x2="171.9" y2="26.9" stroke="#4F9BFF" stroke-width="0.8"/>
<text x="177.9" y="27.6" class="leg">4</text>
<line x1="168.4" y1="33.7" x2="175.4" y2="33.7" stroke="#F564E3" stroke-width="1.4"/>
<line x1="171.9" y1="32.2" x2="171.9" y2="35.2" stroke="#F564E3" stroke-width="0.8"/>
<text x="177.9" y="35.9" class="leg">5</text>
<line x1="30.6" y1="46.5" x2="30.6" y2="190.4" class="ax"/>
<line x1="30.6" y1="190.4" x2="271.5" y2="190.4" class="ax"/>
<line x1="28.6" y1="184.2" x2="30.6" y2="184.2" class="ax"/>
<text x="28" y="186.6" class="tick" text-anchor="end">0%</text>
<line x1="28.6" y1="151.47" x2="30.6" y2="151.47" class="ax"/>
<text x="28" y="153.88" class="tick" text-anchor="end">25%</text>
<line x1="28.6" y1="118.75" x2="30.6" y2="118.75" class="ax"/>
<text x="28" y="121.15" class="tick" text-anchor="end">50%</text>
<line x1="28.6" y1="86.03" x2="30.6" y2="86.03" class="ax"/>
<text x="28" y="88.43" class="tick" text-anchor="end">75%</text>
<line x1="28.6" y1="53.3" x2="30.6" y2="53.3" class="ax"/>
<text x="28" y="55.7" class="tick" text-anchor="end">100%</text>
<line x1="41.5" y1="190.4" x2="41.5" y2="192.4" class="ax"/>
<text x="41.5" y="197.6" class="tick" text-anchor="middle">0</text>
<line x1="67.84" y1="190.4" x2="67.84" y2="192.4" class="ax"/>
<text x="67.84" y="197.6" class="tick" text-anchor="middle">24</text>
<line x1="94.18" y1="190.4" x2="94.18" y2="192.4" class="ax"/>
<text x="94.18" y="197.6" class="tick" text-anchor="middle">48</text>
<line x1="120.51" y1="190.4" x2="120.51" y2="192.4" class="ax"/>
<text x="120.51" y="197.6" class="tick" text-anchor="middle">72</text>
<line x1="146.85" y1="190.4" x2="146.85" y2="192.4" class="ax"/>
<text x="146.85" y="197.6" class="tick" text-anchor="middle">96</text>
<line x1="173.19" y1="190.4" x2="173.19" y2="192.4" class="ax"/>
<text x="173.19" y="197.6" class="tick" text-anchor="middle">120</text>
<line x1="199.53" y1="190.4" x2="199.53" y2="192.4" class="ax"/>
<text x="199.53" y="197.6" class="tick" text-anchor="middle">144</text>
<line x1="225.86" y1="190.4" x2="225.86" y2="192.4" class="ax"/>
<text x="225.86" y="197.6" class="tick" text-anchor="middle">168</text>
<line x1="252.2" y1="190.4" x2="252.2" y2="192.4" class="ax"/>
<text x="252.2" y="197.6" class="tick" text-anchor="middle">192</text>
<text x="151" y="205.4" class="axt" text-anchor="middle">Months</text>
<text transform="translate(11.1,118.5) rotate(-90)" class="axty" text-anchor="middle">Patients without BCR (%)</text>
<text x="36.9" y="184.2" class="pv">p = 0.0003</text>
<line x1="21.3" y1="227.4" x2="27.3" y2="227.4" stroke="#F8766D" stroke-width="1.9"/>
<text x="41.5" y="230.15" class="rt" text-anchor="middle">3</text>
<text x="67.84" y="230.15" class="rt" text-anchor="middle">3</text>
<text x="94.18" y="230.15" class="rt" text-anchor="middle">3</text>
<text x="120.51" y="230.15" class="rt" text-anchor="middle">3</text>
<text x="146.85" y="230.15" class="rt" text-anchor="middle">3</text>
<text x="173.19" y="230.15" class="rt" text-anchor="middle">2</text>
<text x="199.53" y="230.15" class="rt" text-anchor="middle">0</text>
<text x="225.86" y="230.15" class="rt" text-anchor="middle">0</text>
<text x="252.2" y="230.15" class="rt" text-anchor="middle">0</text>
<line x1="21.3" y1="235.58" x2="27.3" y2="235.58" stroke="#C0A000" stroke-width="1.9"/>
<text x="41.5" y="238.33" class="rt" text-anchor="middle">34</text>
<text x="67.84" y="238.33" class="rt" text-anchor="middle">29</text>
<text x="94.18" y="238.33" class="rt" text-anchor="middle">23</text>
<text x="120.51" y="238.33" class="rt" text-anchor="middle">23</text>
<text x="146.85" y="238.33" class="rt" text-anchor="middle">16</text>
<text x="173.19" y="238.33" class="rt" text-anchor="middle">10</text>
<text x="199.53" y="238.33" class="rt" text-anchor="middle">4</text>
<text x="225.86" y="238.33" class="rt" text-anchor="middle">3</text>
<text x="252.2" y="238.33" class="rt" text-anchor="middle">0</text>
<line x1="21.3" y1="243.76" x2="27.3" y2="243.76" stroke="#00BA38" stroke-width="1.9"/>
<text x="41.5" y="246.51" class="rt" text-anchor="middle">36</text>
<text x="67.84" y="246.51" class="rt" text-anchor="middle">30</text>
<text x="94.18" y="246.51" class="rt" text-anchor="middle">23</text>
<text x="120.51" y="246.51" class="rt" text-anchor="middle">21</text>
<text x="146.85" y="246.51" class="rt" text-anchor="middle">17</text>
<text x="173.19" y="246.51" class="rt" text-anchor="middle">10</text>
<text x="199.53" y="246.51" class="rt" text-anchor="middle">4</text>
<text x="225.86" y="246.51" class="rt" text-anchor="middle">4</text>
<text x="252.2" y="246.51" class="rt" text-anchor="middle">0</text>
<line x1="21.3" y1="251.94" x2="27.3" y2="251.94" stroke="#00BFC4" stroke-width="1.9"/>
<text x="41.5" y="254.69" class="rt" text-anchor="middle">22</text>
<text x="67.84" y="254.69" class="rt" text-anchor="middle">14</text>
<text x="94.18" y="254.69" class="rt" text-anchor="middle">11</text>
<text x="120.51" y="254.69" class="rt" text-anchor="middle">9</text>
<text x="146.85" y="254.69" class="rt" text-anchor="middle">7</text>
<text x="173.19" y="254.69" class="rt" text-anchor="middle">6</text>
<text x="199.53" y="254.69" class="rt" text-anchor="middle">4</text>
<text x="225.86" y="254.69" class="rt" text-anchor="middle">1</text>
<text x="252.2" y="254.69" class="rt" text-anchor="middle">0</text>
<line x1="21.3" y1="260.12" x2="27.3" y2="260.12" stroke="#4F9BFF" stroke-width="1.9"/>
<text x="41.5" y="262.87" class="rt" text-anchor="middle">15</text>
<text x="67.84" y="262.87" class="rt" text-anchor="middle">10</text>
<text x="94.18" y="262.87" class="rt" text-anchor="middle">6</text>
<text x="120.51" y="262.87" class="rt" text-anchor="middle">5</text>
<text x="146.85" y="262.87" class="rt" text-anchor="middle">3</text>
<text x="173.19" y="262.87" class="rt" text-anchor="middle">0</text>
<text x="199.53" y="262.87" class="rt" text-anchor="middle">0</text>
<text x="225.86" y="262.87" class="rt" text-anchor="middle">0</text>
<text x="252.2" y="262.87" class="rt" text-anchor="middle">0</text>
<line x1="21.3" y1="268.3" x2="27.3" y2="268.3" stroke="#F564E3" stroke-width="1.9"/>
<text x="41.5" y="271.05" class="rt" text-anchor="middle">4</text>
<text x="67.84" y="271.05" class="rt" text-anchor="middle">1</text>
<text x="94.18" y="271.05" class="rt" text-anchor="middle">1</text>
<text x="120.51" y="271.05" class="rt" text-anchor="middle">1</text>
<text x="146.85" y="271.05" class="rt" text-anchor="middle">1</text>
<text x="173.19" y="271.05" class="rt" text-anchor="middle">0</text>
<text x="199.53" y="271.05" class="rt" text-anchor="middle">0</text>
<text x="225.86" y="271.05" class="rt" text-anchor="middle">0</text>
<text x="252.2" y="271.05" class="rt" text-anchor="middle">0</text>
</g>
<path d="M313.5,325.3H422.4V368.5H456.5" fill="none" stroke="#F8766D" class="km"/>
<line x1="447" y1="367" x2="447" y2="370" stroke="#F8766D" class="cen"/>
<line x1="456.5" y1="367" x2="456.5" y2="370" stroke="#F8766D" class="cen"/>
<path d="M313.5,325.3H319.1V328.7H331.9V336.4H334.6V339.6H337.3V342.8H339.1V345H341.4V347.8H343.7V351H346.4V355.5H351.5V358.5H355V363H362V367.4H401.3V371.3H404.5V376.2H520.9" fill="none" stroke="#C0A000" class="km"/>
<line x1="393" y1="365.9" x2="393" y2="368.9" stroke="#C0A000" class="cen"/>
<line x1="395" y1="365.9" x2="395" y2="368.9" stroke="#C0A000" class="cen"/>
<line x1="412" y1="374.7" x2="412" y2="377.7" stroke="#C0A000" class="cen"/>
<line x1="418" y1="374.7" x2="418" y2="377.7" stroke="#C0A000" class="cen"/>
<line x1="425" y1="374.7" x2="425" y2="377.7" stroke="#C0A000" class="cen"/>
<line x1="437" y1="374.7" x2="437" y2="377.7" stroke="#C0A000" class="cen"/>
<line x1="444" y1="374.7" x2="444" y2="377.7" stroke="#C0A000" class="cen"/>
<line x1="446" y1="374.7" x2="446" y2="377.7" stroke="#C0A000" class="cen"/>
<line x1="459" y1="374.7" x2="459" y2="377.7" stroke="#C0A000" class="cen"/>
<line x1="471" y1="374.7" x2="471" y2="377.7" stroke="#C0A000" class="cen"/>
<line x1="486" y1="374.7" x2="486" y2="377.7" stroke="#C0A000" class="cen"/>
<line x1="501" y1="374.7" x2="501" y2="377.7" stroke="#C0A000" class="cen"/>
<line x1="510" y1="374.7" x2="510" y2="377.7" stroke="#C0A000" class="cen"/>
<line x1="520.9" y1="374.7" x2="520.9" y2="377.7" stroke="#C0A000" class="cen"/>
<path d="M313.5,325.3H317.7V335.5H324.6V343.2H337.3V345.5H340V347.8H342.8V350.5H352.3V355.1H354.6V360.5H357.8V364.6H360V369H361.5V372.4H376.7V375.6H380.5V379.4H411.5V383.8H449.6V392.2H456.5V399.8H505.6" fill="none" stroke="#00BA38" class="km"/>
<line x1="394" y1="377.9" x2="394" y2="380.9" stroke="#00BA38" class="cen"/>
<line x1="424" y1="382.3" x2="424" y2="385.3" stroke="#00BA38" class="cen"/>
<line x1="430" y1="382.3" x2="430" y2="385.3" stroke="#00BA38" class="cen"/>
<line x1="436" y1="382.3" x2="436" y2="385.3" stroke="#00BA38" class="cen"/>
<line x1="441" y1="382.3" x2="441" y2="385.3" stroke="#00BA38" class="cen"/>
<line x1="467" y1="398.3" x2="467" y2="401.3" stroke="#00BA38" class="cen"/>
<line x1="497" y1="398.3" x2="497" y2="401.3" stroke="#00BA38" class="cen"/>
<line x1="502" y1="398.3" x2="502" y2="401.3" stroke="#00BA38" class="cen"/>
<line x1="505.6" y1="398.3" x2="505.6" y2="401.3" stroke="#00BA38" class="cen"/>
<path d="M313.5,325.3H317.2V336.4H323.7V348.2H327.8V354.2H331.4V360.9H335.9V366.4H339.6V372.3H347.8V377.8H350.5V385H356V390.5H368.3V396.4H394.4V402.9H416.4V409.3H490.4V425.3H509.4" fill="none" stroke="#00BFC4" class="km"/>
<line x1="389" y1="394.9" x2="389" y2="397.9" stroke="#00BFC4" class="cen"/>
<line x1="434" y1="407.8" x2="434" y2="410.8" stroke="#00BFC4" class="cen"/>
<line x1="456" y1="407.8" x2="456" y2="410.8" stroke="#00BFC4" class="cen"/>
<line x1="466" y1="407.8" x2="466" y2="410.8" stroke="#00BFC4" class="cen"/>
<line x1="486" y1="407.8" x2="486" y2="410.8" stroke="#00BFC4" class="cen"/>
<line x1="494" y1="423.8" x2="494" y2="426.8" stroke="#00BFC4" class="cen"/>
<line x1="509.4" y1="423.8" x2="509.4" y2="426.8" stroke="#00BFC4" class="cen"/>
<path d="M313.5,325.3H317.7V333.5H322.3V342.8H332.8V351.4H335.9V360H338.7V368.7H346.4V376.9H350.5V385H356V394.6H366V403.7H368.2V412.3H411.8V421.5H418.4V430.2H434.3V438.5H436.9V447.6H440.2" fill="none" stroke="#4F9BFF" class="km"/>
<line x1="440.2" y1="446.1" x2="440.2" y2="449.1" stroke="#4F9BFF" class="cen"/>
<path d="M313.5,325.3H316.1V357.9H319.4V390.6H321.5V423.4H437.6V455.5" fill="none" stroke="#F564E3" class="km"/>
</svg></body></html>
